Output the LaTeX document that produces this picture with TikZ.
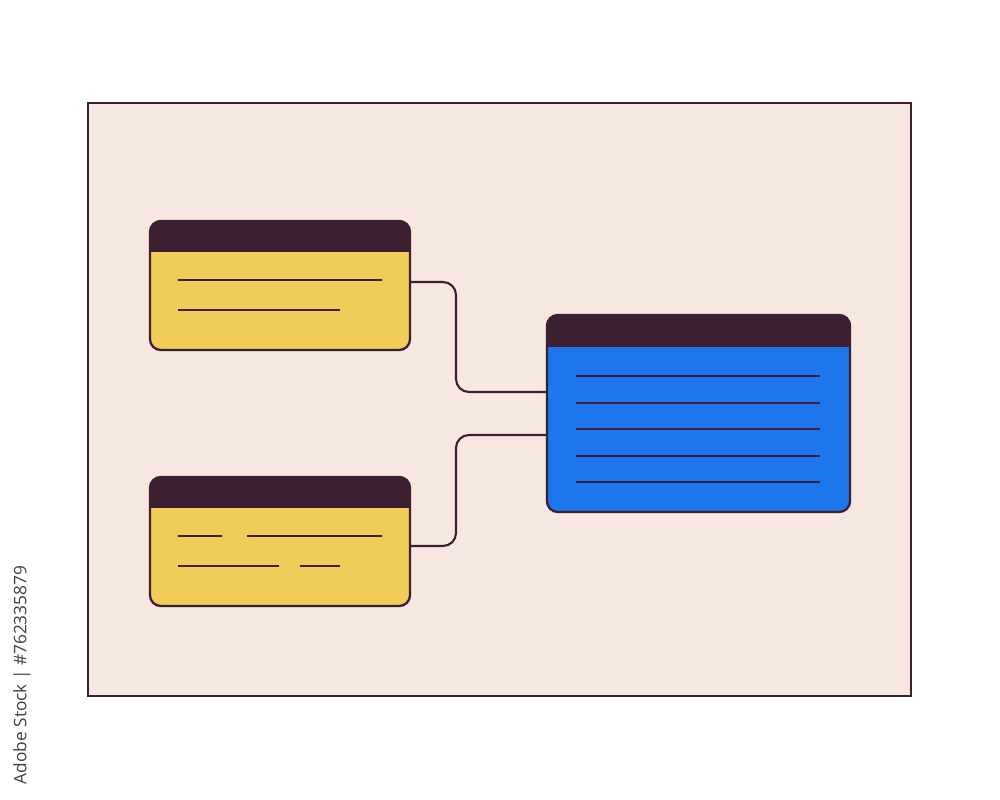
\documentclass[tikz,border=0pt]{standalone}
\usepackage{fontspec}
\newfontfamily\wmfont{Open Sans}
\definecolor{ink}{HTML}{3D1F32}
\definecolor{paper}{HTML}{F6E8E1}
\definecolor{cardy}{HTML}{EFCD58}
\definecolor{cardb}{HTML}{1E76EC}
\begin{document}
\begin{tikzpicture}[x=0.01cm,y=-0.01cm,
  card/.style={draw=ink,line width=0.65pt,rounded corners=0.11cm,inner sep=0pt,
    path picture={\fill[ink,sharp corners] (path picture bounding box.north west) rectangle ([yshift=-#1]path picture bounding box.north east);}},
  yellowcard/.style={card=0.31cm,fill=cardy,minimum width=2.6cm,minimum height=1.29cm},
  bluecard/.style={card=0.32cm,fill=cardb,minimum width=3.03cm,minimum height=1.97cm},
  txt/.style={draw=ink,line width=0.7pt},
  conn/.style={draw=ink,line width=0.6pt,rounded corners=0.13cm}]
\useasboundingbox (0,0) rectangle (1000,800);
\fill[white] (0,0) rectangle (1000,800);
\node[draw=ink,fill=paper,line width=0.6pt,minimum width=8.23cm,minimum height=5.93cm,inner sep=0pt] (frame) at (499.5,399.5) {};
\node[yellowcard] (y1) at (280,285.5) {};
\node[yellowcard] (y2) at (280,541.5) {};
\node[bluecard] (b) at (698.5,413.5) {};
% text lines
\draw[txt] (178,280) -- (382,280);
\draw[txt] (178,310) -- (340,310);
\draw[txt] (178,536) -- (222,536);
\draw[txt] (247,536) -- (382,536);
\draw[txt] (178,566) -- (279,566);
\draw[txt] (300,566) -- (340,566);
\foreach \yy in {376,403,429,456,482} \draw[txt] (576,\yy) -- (820,\yy);
% connectors
\draw[conn] (y1.east |- {(0,282)}) -- (456,282) -- (456,392) -- (b.west |- {(0,392)});
\draw[conn] (y2.east |- {(0,546)}) -- (456,546) -- (456,435) -- (b.west |- {(0,435)});
\node[rotate=90,text=black!75,font=\wmfont\fontsize{4.9}{6}\selectfont,inner sep=0pt] (wm) at (22,675) {Adobe Stock | \#762335879};
\end{tikzpicture}
\end{document}
